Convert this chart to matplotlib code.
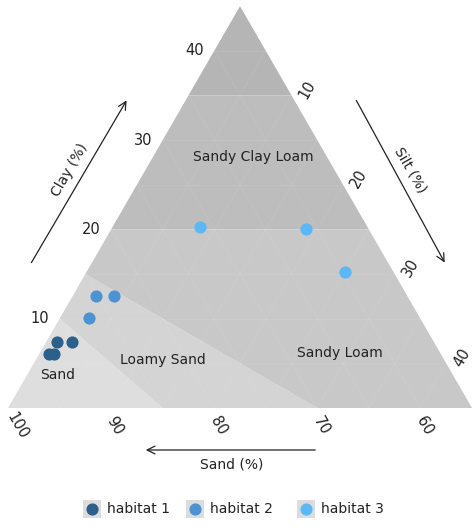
import numpy as np
import matplotlib.pyplot as plt
from matplotlib.patches import Polygon, FancyArrowPatch

# sand, clay, silt (%) per habitat
h1_sand = [93.0, 91.5, 90.1, 92.5]
h1_clay = [6.0, 7.4, 7.4, 6.0]
h2_sand = [85.2, 83.5, 87.1]
h2_clay = [12.5, 12.5, 10.1]
h3_sand = [71.2, 61.1, 59.7]
h3_clay = [20.3, 20.0, 15.2]

regions = {
    'Sand': ([(100, 0), (90, 10), (85, 0)], '#dedede'),
    'Loamy Sand': ([(90, 10), (85, 15), (70, 0), (85, 0)], '#d4d4d4'),
    'Sandy Loam': ([(85, 15), (80, 20), (55, 20), (55, 0), (70, 0)], '#c8c8c8'),
    'Sandy Clay Loam': ([(80, 20), (65, 35), (55, 35), (55, 20)], '#bdbdbd'),
    'Sandy Clay': ([(65, 35), (55, 45), (55, 35)], '#b5b5b5'),
}
labels = {'Sand': (93.3, 3.7), 'Loamy Sand': (82.3, 5.4), 'Sandy Loam': (64.7, 6.2),
          'Sandy Clay Loam': (62.2, 28.1)}

X0, Y0, L = 8, 408, 464
H = L * np.sqrt(3) / 2

def xy(sand, clay):
    sand = np.asarray(sand, float); clay = np.asarray(clay, float)
    silt = 100 - sand - clay
    c = clay / 45; s = silt / 45
    return X0 + L * (s + c / 2), Y0 - H * c

fig = plt.figure(figsize=(4.74, 5.29), dpi=100)
ax = fig.add_axes([0, 0, 1, 1])
ax.set_xlim(0, 474); ax.set_ylim(529, 0); ax.axis('off')

for name, (pts, col) in regions.items():
    px, py = xy([p[0] for p in pts], [p[1] for p in pts])
    ax.add_patch(Polygon(np.c_[px, py], closed=True, fc=col, ec='none'))

# faint grid
for v in range(5, 45, 5):
    for a, b in [((100 - v, v), (55, v)), ((100 - v, 0), (100 - v, v)), ((100 - v, 0), (55, 45 - v))]:
        gx, gy = xy([a[0], b[0]], [a[1], b[1]])
        ax.plot(gx, gy, color='white', lw=0.4, alpha=0.12)

for name, (sd, cl) in labels.items():
    lx, ly = xy(sd, cl)
    ax.text(lx, ly, name, ha='center', va='center', fontsize=10, color='#222222')

# ticks
tc = '#222222'
for v in [10, 20, 30, 40]:
    tx, ty = xy(100 - v, v)
    ax.text(tx - 10, ty, str(v), ha='right', va='center', fontsize=10.5, color=tc)
    tx, ty = xy(55, 45 - v)
    ax.text(tx + 16, ty - 6, str(v), ha='center', va='center', rotation=60, fontsize=10.5, color=tc)
for v in [100, 90, 80, 70, 60]:
    tx, ty = xy(v, 0)
    ax.text(max(tx + 4, 17), ty + 18, str(v), ha='center', va='center', rotation=-60, fontsize=10.5, color=tc)

ax.scatter(*xy(h1_sand, h1_clay), s=60, color='#2b5f8c', zorder=5)
ax.scatter(*xy(h2_sand, h2_clay), s=60, color='#4c93d3', zorder=5)
ax.scatter(*xy(h3_sand, h3_clay), s=60, color='#5ab8f7', zorder=5)

arr = dict(arrowstyle='->', mutation_scale=14, lw=0.9, color='#222222')
ax.add_patch(FancyArrowPatch((30, 265), (128, 98), **arr))
ax.text(70, 170, 'Clay (%)', rotation=60, ha='center', va='center', fontsize=10, color=tc)
ax.add_patch(FancyArrowPatch((355, 98), (446, 265), **arr))
ax.text(410, 170, 'Silt (%)', rotation=-60, ha='center', va='center', fontsize=10, color=tc)
ax.add_patch(FancyArrowPatch((318, 450), (143, 450), **arr))
ax.text(232, 465, 'Sand (%)', ha='center', va='center', fontsize=10, color=tc)

# legend
for lx, col, txt in [(92, '#2b5f8c', 'habitat 1'), (195, '#4c93d3', 'habitat 2'), (306, '#5ab8f7', 'habitat 3')]:
    ax.add_patch(plt.Rectangle((lx - 9, 500), 18, 18, fc='#dcdcdc', ec='none'))
    ax.scatter([lx], [509], s=60, color=col)
    ax.text(lx + 15, 509, txt, va='center', fontsize=10, color=tc)

fig.savefig('out.png', dpi=100)
